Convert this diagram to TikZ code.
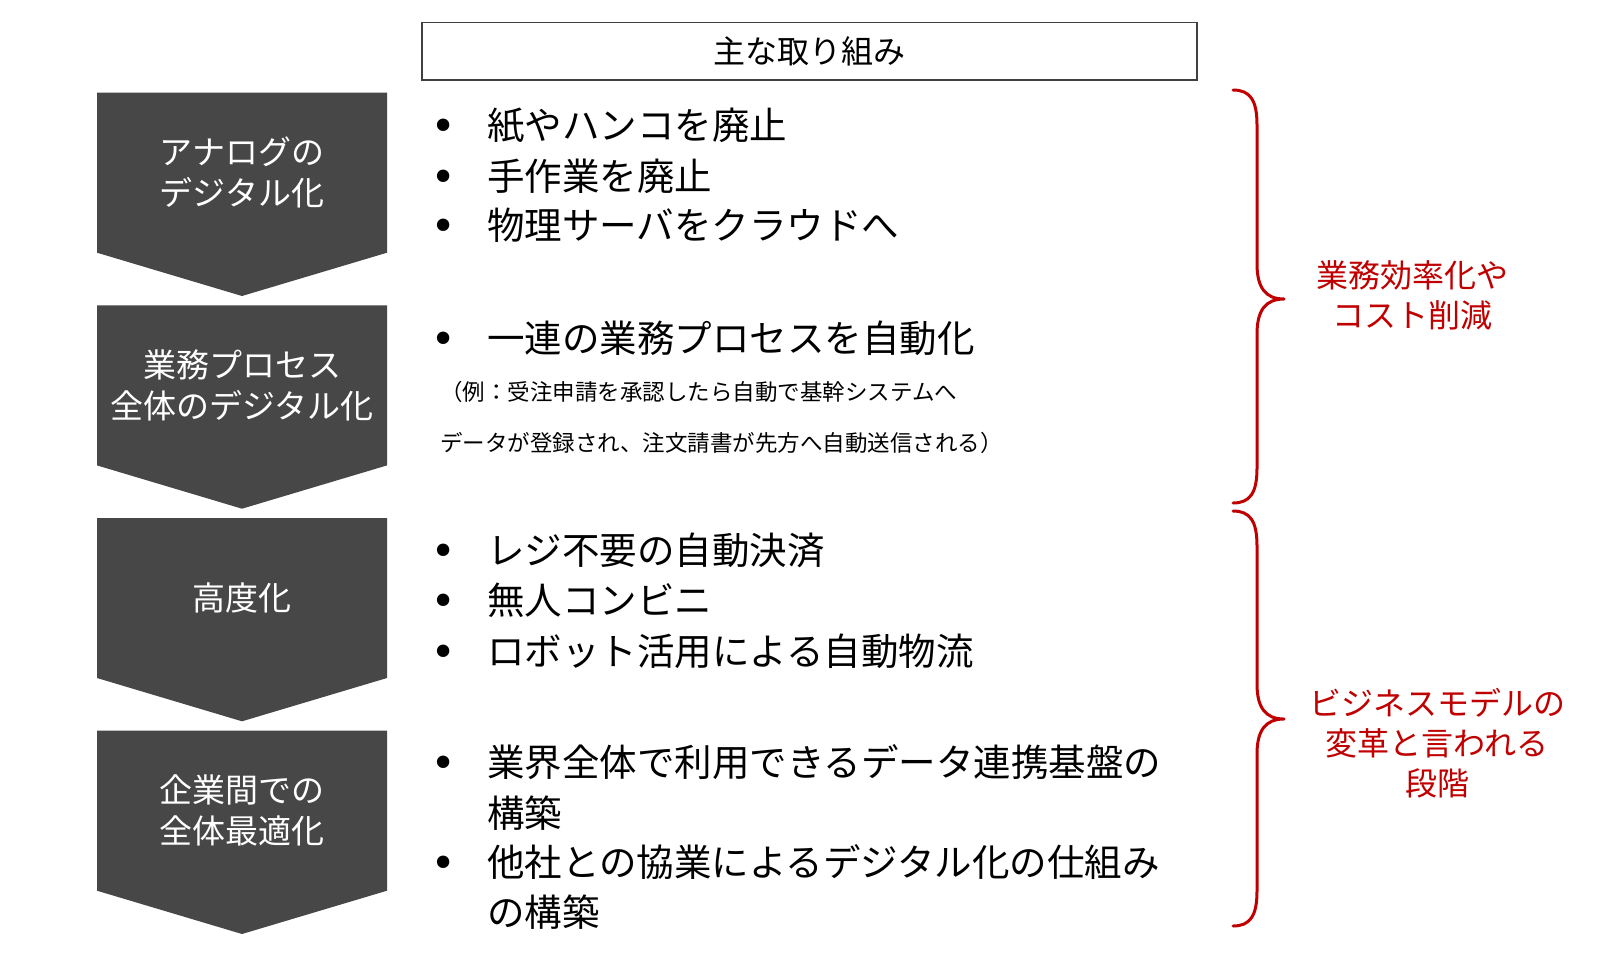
\documentclass[tikz,border=0pt]{standalone}
\usepackage{fontspec}
\setmainfont{Noto Sans CJK JP}
\newfontfamily\bulf{Liberation Serif}
\definecolor{chev}{HTML}{474747}
\definecolor{accent}{HTML}{C00000}
\definecolor{frame}{HTML}{404040}
\tikzset{
  chevtext/.style={text=white, font=\fontsize{33}{41}\selectfont, align=center, inner sep=0pt},
  itemtext/.style={anchor=base west, font=\fontsize{37.5}{37.5}\selectfont, inner sep=0pt},
  bulletmark/.style={anchor=base, font=\bulf\fontsize{52}{52}\selectfont, inner sep=0pt},
  notetext/.style={anchor=base west, font=\fontsize{22.5}{22.5}\selectfont, inner sep=0pt},
  redtext/.style={text=accent, font=\fontsize{32}{40}\selectfont, align=center, inner sep=0pt},
  bracestyle/.style={draw=accent, line width=3pt, line cap=round, line join=round},
  chevshape/.style={fill=chev},
  headbox/.style={draw=frame, line width=1.5pt, minimum width=775pt, minimum height=57.5pt, inner sep=0pt, font=\fontsize{32}{32}\selectfont},
}
\newcommand\chevronat[1]{\fill[chevshape] (97,#1) -- (387,#1) -- (387,#1+160) -- (242,#1+203.3) -- (97,#1+160) -- cycle;}
\begin{document}
\begin{tikzpicture}[x=1pt,y=-1pt]
\fill[white] (0,0) rectangle (1602,956);
\useasboundingbox (0,0) rectangle (1602,956);

% header
\node[headbox] (head) at (809.5,51.25) {主な取り組み};

% chevrons
\chevronat{92.7}
\chevronat{305.4}
\chevronat{518}
\chevronat{730.7}
\node[chevtext] (c1) at (242,172.5) {アナログの\\デジタル化};
\node[chevtext] (c2) at (242,385.5) {業務プロセス\\全体のデジタル化};
\node[chevtext] (c3) at (242,598) {高度化};
\node[chevtext] (c4) at (242,810) {企業間での\\全体最適化};

% bullets
\foreach \n/\yy in {b1/139,b2/190,b3/239,b4/352,b5/564,b6/614,b7/665,b8/776,b10/876}{
  \node[bulletmark] (\n) at (444,\yy+3.5) {•};
}
\node[itemtext] (t1) at (487,139) {紙やハンコを廃止};
\node[itemtext] (t2) at (487,190) {手作業を廃止};
\node[itemtext] (t3) at (487,239) {物理サーバをクラウドへ};
\node[itemtext] (t4) at (487,352) {一連の業務プロセスを自動化};
\node[notetext] (n1) at (440,400.5) {（例：受注申請を承認したら自動で基幹システムへ};
\node[notetext] (n2) at (440,451.5) {データが登録され、注文請書が先方へ自動送信される）};
\node[itemtext] (t5) at (487,564) {レジ不要の自動決済};
\node[itemtext] (t6) at (487,614) {無人コンビニ};
\node[itemtext] (t7) at (487,665) {ロボット活用による自動物流};
\node[itemtext] (t8) at (487,776) {業界全体で利用できるデータ連携基盤の};
\node[itemtext] (t9) at (487,827) {構築};
\node[itemtext] (t10) at (487,876) {他社との協業によるデジタル化の仕組み};
\node[itemtext] (t11) at (487,926) {の構築};

% braces
\draw[bracestyle] (1233,90) .. controls (1250,90) and (1257,100) .. (1257,125) -- (1257,264)
  .. controls (1257,287) and (1265,299) .. (1284,299)
  .. controls (1265,299) and (1257,311) .. (1257,334) -- (1257,468)
  .. controls (1257,493) and (1250,503) .. (1233,503);
\draw[bracestyle] (1233,511) .. controls (1250,511) and (1257,521) .. (1257,546) -- (1257,684)
  .. controls (1257,707) and (1265,719) .. (1284,719)
  .. controls (1265,719) and (1257,731) .. (1257,754) -- (1257,891)
  .. controls (1257,916) and (1250,926) .. (1233,926);

% red labels
\node[redtext] (r1) at (1412,295.5) {業務効率化や\\コスト削減};
\node[redtext] (r2) at (1437,743.5) {ビジネスモデルの\\変革と言われる\\段階};
\end{tikzpicture}
\end{document}
